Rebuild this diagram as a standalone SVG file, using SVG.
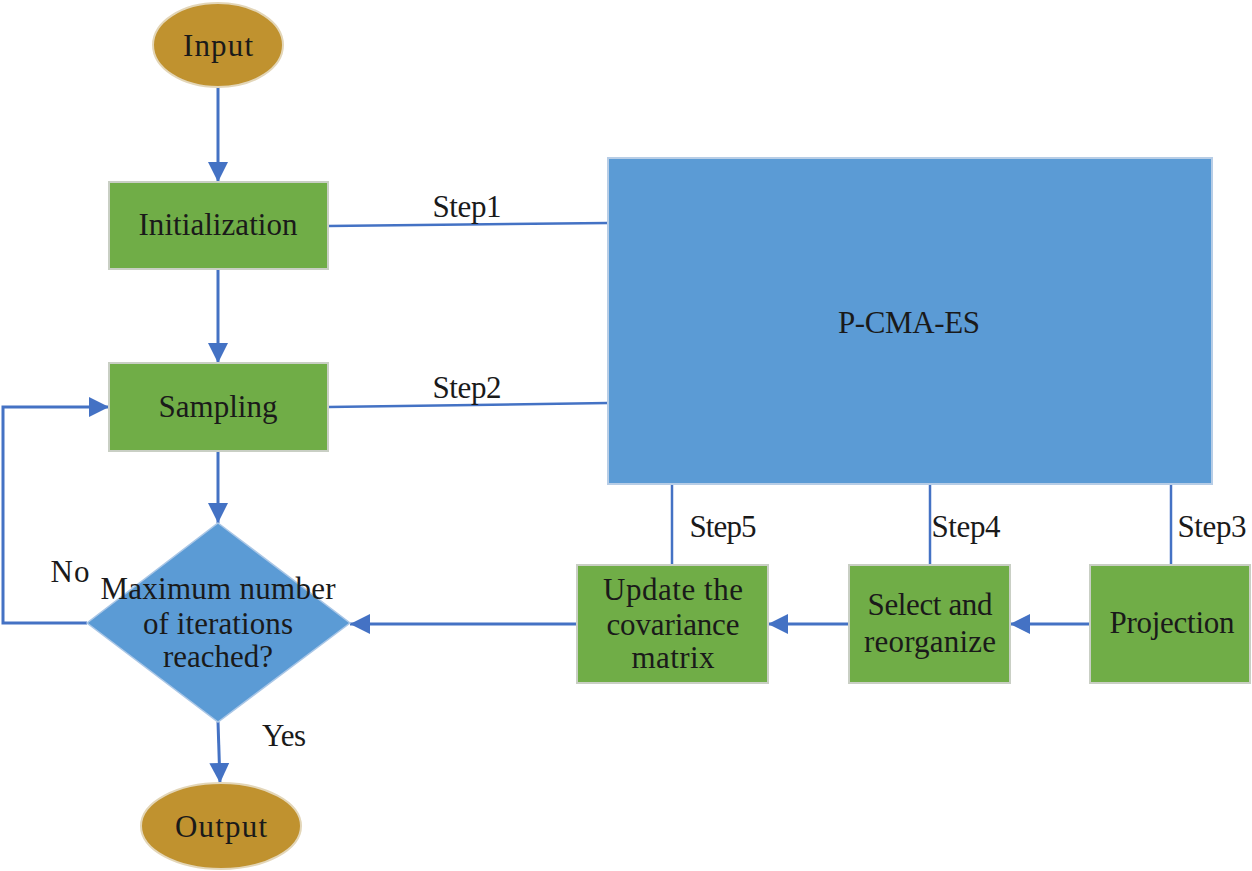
<svg xmlns="http://www.w3.org/2000/svg" width="1252" height="871" viewBox="0 0 1252 871">
<style>
.box{fill:#70AD47;stroke:#C9CFC4;stroke-width:2}
.term{fill:#C0922F;stroke:#E3D6B8;stroke-width:2}
.big{fill:#5B9BD5;stroke:#B7CDE6;stroke-width:2}
.dia{fill:#5B9BD5;stroke:#A9C6E6;stroke-width:1.5}
.ln{fill:none;stroke:#4472C4;stroke-width:3}
.ln2{fill:none;stroke:#4472C4;stroke-width:2.5}
text{font-family:"Liberation Serif","Times New Roman",serif;font-size:31px;fill:#1a1a1a}
.c{text-anchor:middle}
</style>
<defs>
<marker id="ah" markerUnits="userSpaceOnUse" markerWidth="22" markerHeight="22" viewBox="0 0 22 22" refX="20" refY="11" orient="auto">
<path d="M0,1 L20,11 L0,21 Z" fill="#4472C4"/>
</marker>
</defs>
<g id="connectors">
<line class="ln" x1="218" y1="87" x2="218" y2="182" marker-end="url(#ah)"/>
<line class="ln" x1="218" y1="269" x2="218" y2="363" marker-end="url(#ah)"/>
<line class="ln" x1="218" y1="451" x2="218" y2="523" marker-end="url(#ah)"/>
<line class="ln" x1="218" y1="722" x2="220" y2="783" marker-end="url(#ah)"/>
<polyline class="ln" points="87,623 3,623 3,407 109,407" marker-end="url(#ah)"/>
<line class="ln2" x1="328" y1="226" x2="608" y2="223"/>
<line class="ln2" x1="328" y1="407" x2="608" y2="403"/>
<line class="ln2" x1="672" y1="484" x2="672" y2="565"/>
<line class="ln2" x1="930" y1="484" x2="930" y2="565"/>
<line class="ln2" x1="1171" y1="484" x2="1171" y2="565"/>
<line class="ln" x1="1090" y1="624" x2="1010" y2="624" marker-end="url(#ah)"/>
<line class="ln" x1="849" y1="624" x2="768" y2="624" marker-end="url(#ah)"/>
<line class="ln" x1="577" y1="624" x2="350" y2="624" marker-end="url(#ah)"/>
<text x="467" y="217" class="c" textLength="69">Step1</text>
<text x="467" y="398" class="c" textLength="69">Step2</text>
<text x="723" y="537" class="c" textLength="67">Step5</text>
<text x="966" y="537" class="c" textLength="69">Step4</text>
<text x="1212" y="537" class="c" textLength="69">Step3</text>
<text x="70" y="582" class="c" textLength="39">No</text>
<text x="284" y="746" class="c" textLength="44">Yes</text>
</g>
<g id="input">
<ellipse class="term" cx="218" cy="45" rx="65" ry="42"/>
<text x="218" y="56" class="c" textLength="70">Input</text>
</g>
<g id="initialization">
<rect class="box" x="109" y="182" width="219" height="87"/>
<text x="218" y="235" class="c" textLength="159">Initialization</text>
</g>
<g id="sampling">
<rect class="box" x="109" y="363" width="219" height="88"/>
<text x="218" y="417" class="c" textLength="119">Sampling</text>
</g>
<g id="decision">
<polygon class="dia" points="218,523 350,623 218,722 87,623"/>
<text x="218" y="599" class="c" textLength="235">Maximum number</text>
<text x="218" y="634" class="c" textLength="150">of iterations</text>
<text x="218" y="667" class="c" textLength="110">reached?</text>
</g>
<g id="output">
<ellipse class="term" cx="221" cy="826" rx="80" ry="43"/>
<text x="221" y="837" class="c" textLength="92">Output</text>
</g>
<g id="pcmaes">
<rect class="big" x="608" y="158" width="604" height="326"/>
<text x="909" y="333" class="c" textLength="142">P-CMA-ES</text>
</g>
<g id="update">
<rect class="box" x="577" y="565" width="191" height="118"/>
<text x="673" y="600" class="c" textLength="140">Update the</text>
<text x="673" y="635" class="c" textLength="133">covariance</text>
<text x="673" y="668" class="c" textLength="83">matrix</text>
</g>
<g id="select">
<rect class="box" x="849" y="565" width="161" height="118"/>
<text x="930" y="615" class="c" textLength="125">Select and</text>
<text x="930" y="652" class="c" textLength="132">reorganize</text>
</g>
<g id="projection">
<rect class="box" x="1090" y="565" width="160" height="118"/>
<text x="1172" y="633" class="c" textLength="125">Projection</text>
</g>
</svg>
